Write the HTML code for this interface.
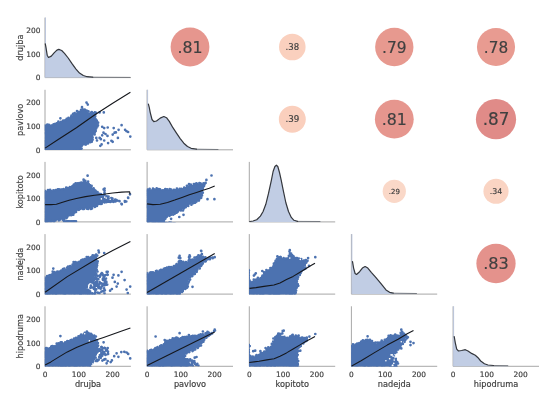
<!DOCTYPE html>
<html><head><meta charset="utf-8"><title>pairgrid</title>
<style>html,body{margin:0;padding:0;background:#fff}svg{display:block}text{font-family:"DejaVu Sans","Liberation Sans",sans-serif;fill:#404040;stroke:#404040;stroke-width:0.18px}</style></head><body>
<svg width="550" height="398" viewBox="0 0 550 398">
<rect width="550" height="398" fill="#fff"/>
<path d="M45.0 17.6V77.6H130.9" fill="none" stroke="#8a8a8a" stroke-width="0.75"/>
<polygon points="44.9,77.6 44.9,76.9 44.9,57.1 45.3,43.9 46.0,47.7 47.2,55.2 48.5,57.5 51.3,56.1 54.1,52.9 56.9,50.1 58.8,49.4 61.7,50.5 64.5,53.3 68.2,58.0 72.0,63.7 75.8,68.8 79.5,73.1 83.3,75.5 87.1,76.7 92.7,77.2 130.4,77.4 130.4,77.6" fill="#c1cde4"/>
<path d="M45.5 17.6V77.6" stroke="#b9c4dc" stroke-width="0.9" fill="none"/>
<polyline points="92.7,77.2 130.4,77.4" fill="none" stroke="#6c6f75" stroke-width="0.9"/>
<polyline points="45.3,43.9 46.0,47.7 47.2,55.2 48.5,57.5 51.3,56.1 54.1,52.9 56.9,50.1 58.8,49.4 61.7,50.5 64.5,53.3 68.2,58.0 72.0,63.7 75.8,68.8 79.5,73.1 83.3,75.5 87.1,76.7 92.7,77.2" fill="none" stroke="#33363c" stroke-width="1.2" stroke-linejoin="round" stroke-linecap="round"/>
<text x="40.4" y="80.4" font-size="7.45" text-anchor="end">0</text>
<text x="40.4" y="56.8" font-size="7.45" text-anchor="end">100</text>
<text x="40.4" y="33.2" font-size="7.45" text-anchor="end">200</text>
<text transform="translate(22.8 47.6) rotate(-90)" font-size="8.2" text-anchor="middle">drujba</text>
<circle cx="190.0" cy="47.0" r="19.40" fill="#e6968e"/>
<text x="190.0" y="52.8" font-size="15.80" text-anchor="middle" fill="#35282a">.81</text>
<circle cx="292.3" cy="47.0" r="13.29" fill="#fad0be"/>
<text x="292.3" y="50.1" font-size="8.53" text-anchor="middle" fill="#35282a">.38</text>
<circle cx="394.3" cy="47.0" r="19.16" fill="#e7998f"/>
<text x="394.3" y="52.6" font-size="15.46" text-anchor="middle" fill="#35282a">.79</text>
<circle cx="496.0" cy="47.0" r="19.04" fill="#e89b91"/>
<text x="496.0" y="52.6" font-size="15.29" text-anchor="middle" fill="#35282a">.78</text>
<path d="M45.0 89.8V149.8H130.9" fill="none" stroke="#8a8a8a" stroke-width="0.75"/>
<clipPath id="c10"><rect x="44.8" y="88.8" width="87.2" height="61.3"/></clipPath>
<g clip-path="url(#c10)">
<polygon points="43.6,151.2 80.2,151.2 82.4,145.8 82.5,145.7 82.6,145.5 82.7,145.4 82.8,145.3 82.9,145.2 83.0,145.1 83.1,145.0 83.3,144.9 83.4,144.9 91.0,142.4 92.6,141.1 92.1,138.2 92.1,138.0 92.1,137.9 92.1,137.7 92.2,137.5 92.2,137.4 92.3,137.2 92.4,137.1 94.3,133.8 96.2,130.7 97.4,127.1 98.0,123.7 96.8,120.2 95.5,116.9 95.5,116.8 95.4,116.6 95.4,116.5 95.4,116.3 95.4,116.2 95.4,116.0 95.5,115.9 95.5,115.7 96.4,113.5 95.0,112.1 92.6,112.1 90.2,112.7 90.0,112.7 89.9,112.7 89.7,112.7 89.6,112.7 89.4,112.7 89.3,112.6 89.1,112.6 89.0,112.5 88.8,112.4 86.3,110.5 83.8,109.0 83.4,109.2 79.8,111.0 79.6,111.1 77.1,111.9 73.7,114.5 70.1,117.2 69.9,117.3 69.8,117.3 64.4,120.1 64.1,120.2 58.8,121.9 55.3,123.7 55.1,123.8 54.9,123.8 51.3,124.7 51.1,124.8 51.0,124.8 50.8,124.8 50.7,124.8 50.5,124.7 47.3,123.9 43.6,125.2 43.6,151.2" fill="#4c72b0"/>
<path d="M43.8 151.1h0M45.9 150.7h0M48.3 151.7h0M50.2 150.7h0M52.1 150.9h0M53.8 151.9h0M57.0 150.5h0M58.9 151.3h0M60.3 150.9h0M62.8 151.1h0M65.0 151.4h0M66.2 151.6h0M69.6 151.9h0M71.2 150.5h0M72.4 150.6h0M75.9 150.9h0M77.1 151.8h0M79.1 151.3h0M80.6 149.3h0M81.6 148.6h0M81.8 145.7h0M83.7 144.1h0M85.8 144.6h0M88.0 143.5h0M90.3 142.2h0M91.8 141.7h0M92.6 139.7h0M92.6 137.6h0M92.3 136.7h0M94.6 134.4h0M94.9 132.3h0M95.7 131.0h0M96.3 128.3h0M97.4 126.4h0M98.0 125.3h0M98.1 122.7h0M96.8 120.7h0M95.5 119.1h0M95.2 116.6h0M95.2 114.8h0M96.1 112.9h0M94.8 112.3h0M91.8 112.2h0M90.8 112.7h0M88.4 111.3h0M86.6 110.6h0M84.7 109.5h0M83.1 109.5h0M81.1 109.8h0M79.1 111.9h0M77.0 111.2h0M74.7 113.2h0M73.1 113.8h0M71.5 115.6h0M71.2 116.9h0M68.5 117.8h0M66.7 118.8h0M65.2 120.4h0M63.2 120.5h0M61.1 121.9h0M58.4 121.5h0M57.2 123.1h0M55.3 123.9h0M53.6 124.3h0M51.5 125.5h0M48.9 124.9h0M47.3 124.7h0M44.3 125.4h0M44.1 126.6h0M44.4 127.7h0M43.9 129.6h0M43.8 132.9h0M43.2 134.1h0M43.0 136.0h0M43.2 138.0h0M44.4 141.2h0M43.6 143.1h0M43.9 144.9h0M43.5 147.2h0M43.7 148.7h0M60.4 118.3h0M86.5 102.6h0M87.8 104.6h0M82.0 107.2h0M99.6 112.4h0M103.8 112.4h0M102.2 126.8h0M104.2 128.1h0M107.7 127.5h0M103.5 132.7h0M105.5 134.0h0M107.5 135.9h0M102.2 135.3h0M99.6 137.9h0M100.9 139.2h0M96.3 137.9h0M97.0 140.5h0M104.2 140.5h0M101.6 144.4h0M100.3 145.8h0M108.1 143.1h0M111.4 140.8h0M112.7 141.8h0M117.9 137.9h0M112.7 134.6h0M114.6 132.7h0M115.9 132.4h0M113.7 128.1h0M118.6 129.8h0M121.6 125.2h0M125.1 129.8h0M126.4 131.1h0M128.1 132.0h0M130.3 136.6h0" fill="none" stroke="#4c72b0" stroke-width="2.7" stroke-linecap="round"/>
</g>
<polyline points="45.1,148.1 58.2,139.5 76.4,127.7 94.5,115.0 112.7,103.2 130.4,92.3" fill="none" stroke="#15171c" stroke-width="1.1" stroke-linejoin="round"/>
<text x="40.4" y="152.5" font-size="7.45" text-anchor="end">0</text>
<text x="40.4" y="128.9" font-size="7.45" text-anchor="end">100</text>
<text x="40.4" y="105.3" font-size="7.45" text-anchor="end">200</text>
<text transform="translate(22.8 119.8) rotate(-90)" font-size="8.2" text-anchor="middle">pavlovo</text>
<path d="M147.1 89.8V149.8H233.0" fill="none" stroke="#8a8a8a" stroke-width="0.75"/>
<polygon points="147.1,149.8 147.1,149.5 147.5,130.5 148.4,104.1 149.3,107.7 150.2,112.3 152.0,119.5 153.8,121.7 156.5,121.0 160.2,118.1 163.8,116.5 166.5,117.7 169.3,121.4 172.9,127.7 176.5,133.2 180.2,138.6 183.8,143.2 187.5,146.5 191.1,148.3 196.5,149.2 218.4,149.5 218.4,149.8" fill="#c1cde4"/>
<path d="M147.6 89.8V149.8" stroke="#b9c4dc" stroke-width="0.9" fill="none"/>
<polyline points="196.5,149.2 218.4,149.5" fill="none" stroke="#6c6f75" stroke-width="0.9"/>
<polyline points="148.4,104.1 149.3,107.7 150.2,112.3 152.0,119.5 153.8,121.7 156.5,121.0 160.2,118.1 163.8,116.5 166.5,117.7 169.3,121.4 172.9,127.7 176.5,133.2 180.2,138.6 183.8,143.2 187.5,146.5 191.1,148.3 196.5,149.2" fill="none" stroke="#33363c" stroke-width="1.2" stroke-linejoin="round" stroke-linecap="round"/>
<circle cx="292.3" cy="119.2" r="13.46" fill="#facfbd"/>
<text x="292.3" y="122.4" font-size="8.70" text-anchor="middle" fill="#35282a">.39</text>
<circle cx="394.3" cy="119.2" r="19.40" fill="#e6968e"/>
<text x="394.3" y="124.9" font-size="15.80" text-anchor="middle" fill="#35282a">.81</text>
<circle cx="496.0" cy="119.2" r="20.11" fill="#e08b88"/>
<text x="496.0" y="125.3" font-size="16.82" text-anchor="middle" fill="#35282a">.87</text>
<path d="M45.0 161.9V221.9H130.9" fill="none" stroke="#8a8a8a" stroke-width="0.75"/>
<clipPath id="c20"><rect x="44.8" y="160.9" width="87.2" height="61.3"/></clipPath>
<g clip-path="url(#c20)">
<polygon points="43.6,223.0 64.8,219.1 68.1,216.6 68.2,216.5 68.4,216.5 72.0,214.7 72.2,214.6 72.3,214.5 72.5,214.5 72.6,214.5 72.8,214.5 73.4,214.5 78.0,210.4 78.1,210.3 78.2,210.3 78.4,210.2 78.5,210.1 78.7,210.1 84.7,208.6 84.9,208.5 85.0,208.5 85.2,208.5 91.1,209.0 93.1,207.4 93.3,207.3 93.4,207.2 101.4,203.2 101.6,203.1 101.7,203.1 101.9,203.0 102.0,203.0 102.2,203.0 105.8,203.0 108.5,201.7 108.6,201.6 108.8,201.5 108.9,201.5 111.9,201.0 112.1,201.0 112.3,201.0 112.4,201.0 112.6,201.0 112.7,201.1 115.2,201.9 117.4,201.1 115.8,200.6 115.7,200.6 115.5,200.5 111.5,198.5 109.5,197.5 106.5,196.0 103.7,194.6 100.0,194.1 99.8,194.1 99.7,194.1 99.5,194.0 99.4,193.9 99.2,193.9 99.1,193.8 96.1,191.3 96.0,191.2 93.0,188.1 92.9,188.1 87.3,181.7 84.6,180.9 82.4,181.8 82.3,181.8 82.2,181.8 77.0,183.0 74.5,184.7 74.4,184.8 74.2,184.8 69.7,186.7 69.6,186.7 64.1,188.5 64.0,188.6 63.8,188.6 58.5,189.1 53.2,190.9 53.1,190.9 52.9,191.0 52.8,191.0 52.6,191.0 52.4,190.9 52.3,190.9 49.0,189.9 43.6,191.0 43.6,223.0" fill="#4c72b0"/>
<path d="M44.3 223.3h0M46.1 223.3h0M47.4 222.5h0M50.5 222.4h0M52.1 221.0h0M53.9 221.9h0M55.5 220.5h0M58.9 220.3h0M59.8 219.7h0M63.0 219.3h0M64.3 219.4h0M66.6 218.1h0M67.2 216.9h0M69.0 215.2h0M71.1 215.2h0M73.3 214.7h0M74.6 212.4h0M76.0 211.9h0M78.9 209.8h0M80.0 208.9h0M82.6 208.8h0M83.9 208.9h0M86.7 208.6h0M88.1 209.0h0M90.9 208.9h0M92.0 208.5h0M94.8 207.0h0M96.9 205.9h0M97.8 204.3h0M100.1 204.0h0M101.7 203.8h0M104.5 202.4h0M106.6 202.1h0M108.2 201.7h0M110.3 202.0h0M112.1 201.4h0M113.4 201.8h0M115.5 201.5h0M116.5 200.2h0M115.2 199.5h0M112.5 198.6h0M111.3 198.0h0M108.5 196.6h0M106.8 196.4h0M104.6 194.7h0M103.7 194.6h0M100.8 194.0h0M98.7 193.6h0M97.5 192.1h0M95.6 190.8h0M94.3 189.8h0M93.6 188.4h0M91.6 185.9h0M89.8 185.2h0M88.7 184.0h0M88.1 181.6h0M85.3 180.8h0M83.8 180.7h0M81.2 182.5h0M79.3 183.2h0M77.3 183.4h0M75.6 183.4h0M73.9 184.6h0M72.5 186.1h0M69.9 187.2h0M67.9 188.0h0M66.2 187.5h0M63.5 189.1h0M61.2 189.5h0M59.0 189.4h0M57.8 189.3h0M55.7 190.2h0M53.4 190.4h0M50.9 190.9h0M50.1 189.9h0M48.0 190.1h0M45.0 191.1h0M44.3 190.7h0M44.2 193.2h0M44.1 195.3h0M44.4 197.4h0M43.2 199.1h0M43.1 201.3h0M44.1 203.3h0M43.1 205.7h0M43.1 208.7h0M42.9 210.6h0M43.4 211.9h0M43.2 214.6h0M43.3 216.5h0M43.5 218.9h0M44.0 220.6h0M119.5 201.2h0M87.6 175.7h0M103.6 189.4h0M104.5 192.5h0M113.6 201.5h0M117.3 200.6h0M121.8 204.3h0M125.5 201.5h0M128.2 197.9h0M130.0 194.3h0M62.7 219.7h0M83.6 179.7h0M87.6 175.5h0M104.6 188.6h0M104.6 190.7h0M121.4 203.8h0M124.9 201.8h0M126.3 201.5h0M128.1 197.6h0M104.2 189.0h0M121.8 204.1h0M124.8 201.1h0M64.0 221.3h0M65.2 221.3h0M66.4 221.3h0M67.6 221.3h0M68.8 221.3h0M70.0 221.3h0M71.2 221.3h0M72.4 221.3h0M73.6 221.3h0M74.8 221.3h0M76.0 221.3h0" fill="none" stroke="#4c72b0" stroke-width="2.7" stroke-linecap="round"/>
<path d="M110.2 199.3h0M106.2 198.1h0M101.4 198.9h0M104.7 197.1h0" fill="none" stroke="#fff" stroke-width="1.6" stroke-linecap="round"/>
</g>
<polyline points="45.1,204.6 50.9,204.6 56.4,204.3 61.8,202.5 69.1,200.3 76.4,198.5 85.5,196.6 94.5,195.2 103.6,194.3 112.7,193.0 121.8,192.1 129.7,191.8 130.0,194.2" fill="none" stroke="#15171c" stroke-width="1.1" stroke-linejoin="round"/>
<text x="40.4" y="224.7" font-size="7.45" text-anchor="end">0</text>
<text x="40.4" y="201.1" font-size="7.45" text-anchor="end">100</text>
<text x="40.4" y="177.5" font-size="7.45" text-anchor="end">200</text>
<text transform="translate(22.8 191.9) rotate(-90)" font-size="8.2" text-anchor="middle">kopitoto</text>
<path d="M147.1 161.9V221.9H233.0" fill="none" stroke="#8a8a8a" stroke-width="0.75"/>
<clipPath id="c21"><rect x="146.8" y="160.9" width="87.2" height="61.3"/></clipPath>
<g clip-path="url(#c21)">
<polygon points="145.7,223.3 171.1,223.3 165.3,222.2 165.2,222.2 165.0,222.1 164.9,222.0 164.7,222.0 164.6,221.9 164.5,221.8 164.4,221.6 164.3,221.5 164.2,221.4 164.1,221.2 164.1,221.1 164.1,220.9 164.0,220.8 164.0,220.6 164.0,220.4 164.1,220.3 164.1,220.1 164.2,220.0 164.3,219.8 164.3,219.7 164.4,219.6 164.6,219.5 164.7,219.4 168.3,216.6 168.4,216.5 173.0,213.8 173.1,213.7 173.2,213.7 177.8,211.9 182.1,210.1 185.6,207.5 189.2,204.8 189.3,204.7 189.5,204.7 189.6,204.6 194.1,202.8 199.1,200.3 201.5,197.1 203.0,193.2 202.3,190.1 202.2,190.0 202.2,189.8 202.2,189.6 202.2,189.5 202.3,189.3 203.2,185.7 203.2,185.6 203.3,185.4 203.4,185.3 203.4,185.1 205.6,182.3 204.7,182.9 204.5,183.0 204.4,183.0 204.2,183.1 200.6,184.0 200.4,184.0 200.3,184.1 200.1,184.1 199.9,184.0 199.8,184.0 199.6,184.0 199.5,183.9 199.4,183.8 197.4,182.7 193.7,184.8 193.5,184.8 193.4,184.9 193.3,184.9 193.1,185.0 192.9,185.0 192.8,185.0 189.0,184.7 186.8,186.9 186.7,187.0 186.5,187.1 186.4,187.1 186.2,187.2 186.1,187.3 186.0,187.3 180.5,188.4 175.1,189.6 175.0,189.7 174.8,189.7 174.7,189.7 169.3,189.5 163.9,189.9 163.8,189.9 163.6,189.9 163.5,189.8 158.3,188.6 153.1,189.1 153.0,189.1 145.7,189.7 145.7,223.3" fill="#4c72b0"/>
<path d="M145.1 223.6h0M148.0 223.3h0M149.5 223.8h0M152.5 223.4h0M154.1 223.0h0M155.5 223.2h0M158.5 222.7h0M161.0 222.9h0M162.2 222.7h0M165.5 223.7h0M167.4 223.5h0M168.3 223.1h0M171.1 222.8h0M169.7 222.7h0M166.4 223.0h0M164.3 222.7h0M164.0 220.3h0M165.3 218.7h0M166.7 216.8h0M169.5 215.8h0M171.2 214.7h0M173.3 214.6h0M174.9 213.6h0M176.6 212.7h0M177.9 211.6h0M180.9 210.4h0M183.0 210.5h0M183.9 208.5h0M185.7 207.2h0M188.2 206.0h0M188.4 204.3h0M191.4 204.7h0M193.1 203.2h0M195.1 202.7h0M196.5 201.6h0M198.9 200.6h0M199.7 198.4h0M201.2 197.8h0M202.0 195.4h0M202.8 192.7h0M201.9 191.7h0M202.7 188.9h0M203.1 187.3h0M204.1 185.8h0M204.6 184.1h0M205.6 182.9h0M203.5 183.4h0M200.7 183.6h0M199.4 183.0h0M196.4 183.3h0M195.6 183.9h0M193.8 184.2h0M190.8 184.5h0M189.0 184.2h0M186.9 185.8h0M186.5 188.0h0M184.2 187.7h0M181.3 188.8h0M179.7 188.9h0M176.9 188.6h0M176.0 190.0h0M174.0 189.8h0M171.2 189.7h0M169.7 189.2h0M167.1 189.3h0M165.3 189.1h0M163.1 190.4h0M160.0 189.3h0M158.9 189.2h0M156.7 188.4h0M154.3 189.7h0M153.0 188.6h0M149.6 188.8h0M147.4 189.5h0M145.5 190.3h0M145.9 190.9h0M145.7 193.4h0M145.6 195.3h0M145.1 197.4h0M145.5 200.3h0M145.7 201.4h0M146.0 204.8h0M146.1 206.8h0M144.9 208.4h0M145.0 211.0h0M145.2 213.1h0M145.3 215.2h0M145.4 216.3h0M145.5 218.8h0M146.3 220.9h0M173.4 223.4h0M175.1 223.7h0M173.1 223.5h0M174.8 223.6h0M173.4 223.4h0M173.8 223.9h0M173.8 223.5h0M174.6 223.6h0M173.8 223.6h0M174.7 223.7h0M174.9 223.7h0M174.2 223.6h0M173.5 223.7h0M174.6 223.5h0M173.1 223.8h0M173.2 223.9h0M173.9 223.3h0M175.0 223.8h0M206.4 179.9h0M211.5 175.5h0M207.5 199.2h0M214.4 199.2h0M183.5 214.8h0M179.3 217.0h0M171.1 218.8h0" fill="none" stroke="#4c72b0" stroke-width="2.7" stroke-linecap="round"/>
</g>
<polyline points="147.1,203.9 152.9,204.6 160.2,204.3 167.5,202.5 174.7,200.1 182.0,197.4 189.3,194.8 196.5,192.5 203.8,190.1 209.3,188.3 214.7,186.1" fill="none" stroke="#15171c" stroke-width="1.1" stroke-linejoin="round"/>
<path d="M249.3 161.9V221.9H335.2" fill="none" stroke="#8a8a8a" stroke-width="0.75"/>
<polygon points="249.8,221.9 249.8,221.5 253.1,221.0 256.7,219.7 260.4,216.1 263.1,211.5 265.8,204.3 268.5,193.4 271.3,180.6 273.1,171.5 274.9,166.5 276.4,165.2 277.8,166.5 279.5,172.5 281.3,180.6 283.1,189.7 285.8,202.5 288.5,211.5 291.3,217.4 294.0,220.3 297.6,221.4 320.4,221.5 320.4,221.9" fill="#c1cde4"/>
<polyline points="297.6,221.4 320.4,221.5" fill="none" stroke="#6c6f75" stroke-width="0.9"/>
<polyline points="249.8,221.5 253.1,221.0 256.7,219.7 260.4,216.1 263.1,211.5 265.8,204.3 268.5,193.4 271.3,180.6 273.1,171.5 274.9,166.5 276.4,165.2 277.8,166.5 279.5,172.5 281.3,180.6 283.1,189.7 285.8,202.5 288.5,211.5 291.3,217.4 294.0,220.3 297.6,221.4" fill="none" stroke="#33363c" stroke-width="1.2" stroke-linejoin="round" stroke-linecap="round"/>
<circle cx="394.3" cy="191.3" r="11.61" fill="#fad8c8"/>
<text x="394.3" y="193.9" font-size="7.01" text-anchor="middle" fill="#35282a">.29</text>
<circle cx="496.0" cy="191.3" r="12.57" fill="#fad4c3"/>
<text x="496.0" y="194.2" font-size="7.86" text-anchor="middle" fill="#35282a">.34</text>
<path d="M45.0 234.1V294.1H130.9" fill="none" stroke="#8a8a8a" stroke-width="0.75"/>
<clipPath id="c30"><rect x="44.8" y="233.1" width="87.2" height="61.3"/></clipPath>
<g clip-path="url(#c30)">
<polygon points="43.6,295.5 95.7,295.5 95.2,293.7 91.2,292.2 91.1,292.2 90.9,292.1 90.8,292.0 87.2,289.0 87.1,288.9 87.0,288.8 86.9,288.7 86.8,288.5 86.8,288.4 86.7,288.2 86.7,288.1 86.7,287.9 86.7,287.7 86.7,287.6 86.7,287.4 86.7,287.3 87.9,283.7 88.0,283.6 88.0,283.5 88.1,283.3 88.2,283.2 88.3,283.1 88.4,283.0 91.9,280.1 95.1,276.3 96.7,272.1 97.3,266.4 97.3,266.2 97.4,266.1 97.4,265.9 97.5,265.8 97.5,265.7 98.0,265.0 97.5,262.0 96.6,258.5 96.6,258.3 96.6,258.2 96.6,258.0 96.6,257.9 96.6,257.7 97.4,254.5 97.2,253.8 96.2,254.1 93.6,255.8 93.5,255.9 93.3,255.9 93.2,256.0 93.0,256.0 88.6,256.9 84.2,258.7 84.2,258.7 80.7,260.0 77.6,262.5 77.5,262.5 77.3,262.6 77.2,262.7 77.1,262.7 76.9,262.8 76.8,262.8 76.6,262.8 74.4,262.8 73.5,264.4 73.4,264.5 73.3,264.6 73.2,264.7 73.1,264.9 73.0,265.0 72.8,265.0 68.8,267.0 64.9,269.0 64.8,269.1 59.6,271.1 59.4,271.1 59.3,271.2 55.4,271.9 55.2,271.9 55.1,271.9 54.9,271.9 54.8,271.9 54.6,271.8 54.5,271.8 54.3,271.7 53.6,271.3 51.9,274.4 51.8,274.5 51.7,274.6 51.6,274.7 51.5,274.9 51.4,274.9 51.2,275.0 51.1,275.1 47.8,276.4 47.7,276.4 43.6,277.8 43.6,295.5" fill="#4c72b0"/>
<path d="M43.7 295.2h0M45.1 295.8h0M47.4 295.2h0M49.8 295.7h0M52.8 295.5h0M54.9 296.3h0M55.9 294.9h0M57.9 296.0h0M60.7 296.2h0M63.3 295.8h0M64.8 294.9h0M66.1 296.0h0M69.2 295.9h0M71.2 295.8h0M73.4 296.1h0M74.7 295.5h0M77.1 296.0h0M80.1 295.2h0M81.0 295.1h0M83.5 295.9h0M85.7 295.9h0M87.7 295.6h0M89.6 295.7h0M92.2 296.1h0M95.0 295.6h0M94.8 295.5h0M94.9 293.3h0M92.3 293.3h0M90.1 291.3h0M89.1 290.6h0M87.5 289.5h0M86.8 286.9h0M87.1 284.6h0M88.1 283.0h0M90.3 281.9h0M91.6 280.2h0M93.2 278.7h0M94.8 277.5h0M95.7 275.3h0M96.2 273.8h0M97.5 271.5h0M96.7 269.7h0M96.6 267.1h0M97.1 265.4h0M97.3 263.1h0M97.7 261.4h0M96.1 259.1h0M96.0 257.6h0M97.3 255.6h0M96.1 254.5h0M94.1 255.6h0M92.7 255.4h0M91.4 257.0h0M88.2 257.0h0M86.7 257.1h0M84.7 259.2h0M82.6 259.6h0M81.2 260.4h0M79.3 261.8h0M77.3 262.5h0M75.4 262.2h0M73.8 264.1h0M72.6 264.7h0M70.2 266.1h0M68.1 266.6h0M67.2 267.5h0M64.4 268.5h0M63.0 269.1h0M61.3 270.6h0M59.4 271.6h0M57.3 271.6h0M54.6 272.0h0M52.7 271.5h0M52.5 273.9h0M50.3 275.1h0M49.0 275.6h0M47.1 276.2h0M44.4 277.3h0M43.3 279.0h0M43.5 280.4h0M44.1 283.4h0M44.1 284.4h0M43.3 286.5h0M44.0 289.1h0M43.0 292.0h0M43.0 292.7h0M53.3 268.6h0M98.5 250.5h0M73.6 262.1h0M101.8 273.0h0M107.7 271.8h0M107.7 274.8h0M113.6 274.8h0M112.5 277.7h0M118.4 275.4h0M121.6 271.8h0M114.8 281.9h0M117.8 283.6h0M124.6 280.1h0M116.6 286.6h0M111.9 289.0h0M110.1 290.7h0M130.2 286.6h0M126.6 289.6h0M127.8 293.1h0M98.9 252.4h0M104.2 253.0h0M98.6 287.9h0M90.4 287.8h0M96.6 285.1h0M94.7 285.8h0M94.0 284.5h0M99.9 275.4h0M97.5 275.8h0M96.2 289.4h0M104.9 290.3h0M99.3 286.9h0M100.4 287.7h0M97.4 279.4h0M104.5 285.3h0M98.3 279.2h0M96.4 278.0h0M104.5 293.3h0M100.5 275.6h0M103.5 291.0h0M98.6 286.5h0M104.5 290.4h0M99.6 282.2h0M104.9 281.4h0M106.7 272.0h0M105.6 283.4h0M92.2 282.6h0M97.1 283.9h0M103.0 279.9h0M105.0 279.4h0M96.9 281.7h0M99.4 293.2h0M105.2 285.0h0M97.7 285.1h0M100.7 288.7h0M106.4 282.1h0M103.5 277.2h0M105.5 275.0h0M99.5 284.0h0M102.9 284.8h0M107.2 272.5h0M102.8 279.2h0M95.3 292.3h0M90.9 285.7h0M99.9 276.8h0M95.3 279.1h0M105.5 283.6h0M102.5 273.9h0M104.0 278.5h0M101.1 274.1h0M97.5 279.6h0M106.4 284.6h0M93.9 283.2h0M106.0 278.6h0M96.5 278.9h0M102.9 291.1h0M97.7 292.7h0M90.7 287.1h0M103.3 275.4h0M107.2 284.6h0M95.2 285.9h0M98.2 286.9h0M94.4 286.0h0M106.2 281.5h0M93.2 287.7h0M104.1 288.4h0M92.3 287.5h0M101.4 291.6h0M95.6 283.9h0M105.0 275.6h0M103.9 283.7h0M94.6 288.1h0M96.0 282.0h0M93.7 280.7h0M91.9 287.3h0M101.4 283.3h0M95.4 290.6h0M106.7 271.8h0M94.0 289.0h0M103.7 277.2h0M96.5 285.6h0M106.4 282.3h0M99.5 286.5h0M94.6 288.5h0M102.3 285.9h0M101.3 287.7h0M100.0 287.7h0" fill="none" stroke="#4c72b0" stroke-width="2.7" stroke-linecap="round"/>
</g>
<polyline points="45.1,292.3 67.3,276.6 94.5,260.3 112.7,250.5 130.4,241.4" fill="none" stroke="#15171c" stroke-width="1.1" stroke-linejoin="round"/>
<text x="40.4" y="296.9" font-size="7.45" text-anchor="end">0</text>
<text x="40.4" y="273.3" font-size="7.45" text-anchor="end">100</text>
<text x="40.4" y="249.7" font-size="7.45" text-anchor="end">200</text>
<text transform="translate(22.8 264.1) rotate(-90)" font-size="8.2" text-anchor="middle">nadejda</text>
<path d="M147.1 234.1V294.1H233.0" fill="none" stroke="#8a8a8a" stroke-width="0.75"/>
<clipPath id="c31"><rect x="146.8" y="233.1" width="87.2" height="61.3"/></clipPath>
<g clip-path="url(#c31)">
<polygon points="145.7,295.5 179.3,295.5 181.5,291.8 181.6,291.7 181.8,291.5 181.9,291.4 182.0,291.3 184.7,289.5 187.4,287.7 188.5,286.8 188.3,286.6 188.2,286.5 188.0,286.4 187.9,286.3 187.9,286.1 187.8,286.0 187.7,285.8 187.7,285.7 187.7,285.5 187.7,285.4 187.7,285.2 188.0,281.6 188.1,281.4 188.1,281.3 188.2,281.1 188.2,281.0 188.3,280.9 190.7,277.2 190.7,277.1 190.8,277.0 190.9,276.9 191.0,276.8 194.5,274.2 197.1,270.8 199.8,267.1 202.5,263.5 202.6,263.4 202.7,263.3 202.9,263.2 206.5,260.4 206.6,260.4 206.7,260.3 206.9,260.2 211.4,258.4 211.5,258.4 213.0,257.9 212.8,257.2 209.6,257.8 209.4,257.9 209.3,257.9 204.7,257.9 204.6,257.9 204.4,257.8 204.3,257.8 204.1,257.8 204.0,257.7 203.8,257.6 203.7,257.5 203.6,257.4 203.5,257.3 203.4,257.2 201.6,254.4 201.1,253.7 200.6,254.4 200.5,254.6 200.4,254.7 200.2,254.8 196.6,257.6 196.4,257.7 196.3,257.7 192.1,259.6 191.9,259.6 191.8,259.7 191.6,259.7 191.5,259.7 191.3,259.7 191.2,259.7 191.0,259.6 190.9,259.6 190.7,259.5 190.6,259.4 190.4,259.3 190.3,259.2 190.2,259.1 190.1,259.0 190.1,258.9 189.9,259.5 189.8,259.7 189.7,259.8 189.7,259.9 189.6,260.0 189.5,260.2 189.4,260.3 189.2,260.3 185.6,262.7 185.5,262.8 185.3,262.8 185.2,262.9 185.0,262.9 184.9,263.0 184.7,263.0 184.6,263.0 184.4,262.9 184.3,262.9 184.1,262.8 184.0,262.8 183.9,262.7 180.2,260.3 180.1,260.2 180.0,260.1 179.9,260.0 179.8,259.9 179.8,259.9 179.0,262.2 178.9,262.4 178.8,262.5 178.8,262.7 178.7,262.8 178.5,262.9 178.4,263.0 178.3,263.1 173.7,265.8 173.6,265.9 173.4,266.0 168.0,267.8 167.8,267.8 162.4,269.1 157.1,270.9 157.0,270.9 151.5,272.4 151.5,272.4 145.7,273.9 145.7,295.5" fill="#4c72b0"/>
<path d="M144.9 294.9h0M147.6 295.8h0M149.3 294.9h0M151.6 295.9h0M153.6 295.9h0M156.5 295.0h0M158.4 295.5h0M160.3 296.3h0M161.9 294.8h0M165.3 295.4h0M166.3 295.3h0M168.7 296.2h0M170.6 295.1h0M173.2 295.6h0M175.9 296.0h0M177.1 295.1h0M179.9 296.1h0M179.8 293.9h0M182.1 292.0h0M182.8 290.9h0M185.3 288.9h0M187.0 287.7h0M187.8 286.6h0M187.4 285.0h0M188.1 283.5h0M188.9 281.7h0M190.1 279.6h0M190.2 276.9h0M192.3 276.1h0M194.1 274.1h0M194.8 273.9h0M196.7 271.8h0M197.2 269.7h0M199.7 268.4h0M201.0 266.0h0M201.5 265.2h0M202.8 263.6h0M204.7 261.3h0M205.7 261.3h0M207.6 259.3h0M209.9 259.2h0M212.7 258.2h0M212.4 257.7h0M210.0 257.5h0M208.4 258.1h0M205.4 257.3h0M203.5 258.0h0M203.0 256.8h0M201.9 254.0h0M200.7 255.5h0M198.4 255.3h0M196.7 257.0h0M194.5 257.6h0M192.5 259.7h0M190.4 259.8h0M189.4 259.2h0M188.7 260.7h0M185.9 262.1h0M184.8 263.0h0M183.2 261.8h0M180.9 261.1h0M179.5 260.8h0M178.8 261.9h0M176.6 264.2h0M175.8 265.5h0M173.9 266.0h0M171.1 267.1h0M169.0 267.1h0M167.0 267.7h0M165.2 268.3h0M163.8 268.9h0M161.0 269.8h0M159.8 270.6h0M156.7 270.9h0M156.0 271.0h0M152.9 272.4h0M151.1 272.3h0M149.7 272.8h0M146.7 273.1h0M145.4 274.7h0M145.5 276.9h0M145.0 278.3h0M145.8 280.7h0M145.6 283.5h0M145.3 284.5h0M145.0 287.1h0M145.3 289.2h0M144.9 290.6h0M145.5 293.8h0M201.3 251.1h0M190.0 256.6h0M189.0 257.2h0M180.3 258.0h0M178.8 257.7h0M179.6 255.9h0M189.6 255.4h0M201.1 250.8h0M214.7 257.2h0M192.5 286.8h0" fill="none" stroke="#4c72b0" stroke-width="2.7" stroke-linecap="round"/>
</g>
<polyline points="147.1,292.6 214.7,253.5" fill="none" stroke="#15171c" stroke-width="1.1" stroke-linejoin="round"/>
<path d="M249.3 234.1V294.1H335.2" fill="none" stroke="#8a8a8a" stroke-width="0.75"/>
<clipPath id="c32"><rect x="249.0" y="233.1" width="87.2" height="61.3"/></clipPath>
<g clip-path="url(#c32)">
<polygon points="247.9,295.5 295.0,295.5 296.1,290.4 296.1,290.3 296.2,290.1 296.3,289.9 298.0,287.0 298.0,284.5 296.8,280.8 296.7,280.6 296.7,280.5 296.7,280.3 296.7,280.2 296.7,280.0 296.8,279.9 296.8,279.7 298.1,276.4 298.2,276.3 298.2,276.2 298.3,276.1 300.3,273.5 300.3,273.4 302.9,270.1 303.0,270.0 303.1,269.9 303.2,269.9 305.5,268.1 305.8,267.5 305.6,267.4 305.5,267.4 305.3,267.3 305.2,267.2 305.1,267.1 305.0,267.0 304.9,266.9 304.8,266.8 304.7,266.6 304.6,266.5 304.6,266.3 304.6,266.2 304.5,266.0 304.5,265.8 304.6,265.7 304.6,265.5 304.6,265.4 304.7,265.2 304.8,265.1 304.9,265.0 306.7,262.5 307.6,260.7 307.2,259.9 305.2,260.3 305.0,260.3 304.8,260.3 304.7,260.3 304.5,260.3 298.0,259.0 297.8,259.0 297.7,258.9 297.6,258.8 297.4,258.8 297.3,258.7 294.2,256.2 291.7,254.9 291.6,254.8 291.4,254.8 291.3,254.6 291.2,254.5 290.1,253.2 289.2,254.9 289.1,255.1 289.0,255.2 286.4,258.4 286.3,258.5 286.2,258.6 286.1,258.7 286.0,258.8 285.8,258.9 285.7,258.9 285.5,259.0 285.4,259.0 285.2,259.0 285.0,259.0 284.9,259.0 284.7,258.9 284.6,258.9 281.3,257.5 281.1,257.4 281.0,257.3 279.0,255.9 277.9,256.2 276.9,258.6 275.6,262.5 275.6,262.6 275.5,262.8 275.4,262.9 275.3,263.0 272.1,266.8 272.0,266.9 271.9,267.0 268.8,269.6 268.7,269.7 268.5,269.8 268.4,269.9 265.0,271.2 263.6,272.6 262.6,276.3 262.6,276.5 262.5,276.6 262.5,276.8 262.4,276.9 262.3,277.0 262.1,277.1 262.0,277.2 261.9,277.3 261.7,277.4 261.6,277.4 257.9,278.6 255.0,279.8 251.7,281.7 251.5,281.8 251.4,281.8 251.2,281.9 251.1,281.9 250.9,281.9 250.8,281.9 250.6,281.9 250.5,281.8 250.3,281.8 250.2,281.7 250.0,281.6 249.9,281.6 249.8,281.5 249.7,281.3 249.6,281.2 249.5,281.1 249.4,280.9 249.4,280.8 249.3,280.6 249.3,280.5 249.3,280.3 249.1,269.6 247.9,269.6 247.9,295.5" fill="#4c72b0"/>
<path d="M247.3 295.1h0M249.8 296.1h0M252.1 295.9h0M253.7 295.5h0M256.9 295.6h0M259.1 296.1h0M260.4 294.8h0M263.0 295.0h0M264.0 295.9h0M267.4 296.0h0M269.6 295.1h0M270.4 295.0h0M273.9 294.9h0M274.7 294.8h0M276.7 294.8h0M279.2 295.0h0M281.3 296.2h0M283.2 296.0h0M286.1 295.6h0M288.0 295.9h0M290.1 295.1h0M291.8 295.1h0M294.0 296.3h0M295.2 293.7h0M295.7 292.7h0M296.1 290.5h0M296.6 287.7h0M298.3 285.8h0M297.7 284.2h0M296.9 281.7h0M296.0 281.1h0M297.6 279.1h0M298.1 277.2h0M299.8 274.9h0M300.6 273.1h0M301.5 271.3h0M303.6 269.4h0M305.4 268.6h0M305.4 267.7h0M304.8 264.9h0M305.4 262.9h0M306.3 262.6h0M307.5 260.8h0M305.8 260.0h0M304.0 260.7h0M301.2 259.0h0M298.9 258.7h0M297.0 258.0h0M295.9 258.0h0M293.5 256.4h0M292.1 255.1h0M291.1 253.5h0M289.9 253.9h0M288.9 255.8h0M286.1 258.5h0M285.5 259.3h0M283.6 258.1h0M280.7 257.2h0M280.2 257.0h0M277.4 256.4h0M276.9 259.0h0M275.6 260.9h0M275.3 262.5h0M273.9 263.5h0M273.7 265.7h0M272.4 267.8h0M270.4 268.0h0M268.5 270.6h0M266.4 270.0h0M264.1 272.3h0M264.2 272.9h0M262.6 275.6h0M262.1 276.7h0M260.8 278.1h0M257.9 277.8h0M256.2 279.7h0M253.8 279.6h0M252.8 281.9h0M250.3 281.8h0M249.5 280.3h0M248.7 277.9h0M248.8 275.7h0M248.6 273.8h0M248.7 272.4h0M248.9 270.5h0M248.4 270.0h0M247.4 272.5h0M247.9 274.6h0M247.4 276.7h0M248.3 278.6h0M247.6 281.5h0M247.6 283.7h0M248.2 284.3h0M247.9 286.6h0M248.4 289.1h0M247.3 292.0h0M248.4 293.6h0M289.5 251.5h0M253.9 275.6h0M255.8 273.3h0M254.8 274.5h0M262.3 271.0h0M289.8 250.2h0M315.3 257.2h0M308.1 258.1h0M309.0 265.9h0" fill="none" stroke="#4c72b0" stroke-width="2.7" stroke-linecap="round"/>
<path d="M289.8 258.1h0M300.3 259.4h0" fill="none" stroke="#fff" stroke-width="1.6" stroke-linecap="round"/>
</g>
<polyline points="249.6,288.4 256.0,287.6 264.0,286.4 273.9,285.0 280.0,282.9 286.5,279.6 293.1,276.4 299.6,272.5 306.1,268.5 311.4,265.3 315.0,263.3" fill="none" stroke="#15171c" stroke-width="1.1" stroke-linejoin="round"/>
<path d="M351.4 234.1V294.1H437.2" fill="none" stroke="#8a8a8a" stroke-width="0.75"/>
<polygon points="352.0,294.1 352.0,293.5 352.2,274.5 352.5,261.7 353.6,268.1 355.1,273.5 356.5,274.5 359.6,271.7 362.4,268.1 365.1,266.6 367.8,268.1 371.5,272.6 375.1,276.6 378.7,280.8 382.4,285.4 386.0,289.9 389.6,292.3 393.3,293.2 416.9,293.5 416.9,294.1" fill="#c1cde4"/>
<path d="M351.9 234.1V294.1" stroke="#b9c4dc" stroke-width="0.9" fill="none"/>
<polyline points="393.3,293.2 416.9,293.5" fill="none" stroke="#6c6f75" stroke-width="0.9"/>
<polyline points="352.5,261.7 353.6,268.1 355.1,273.5 356.5,274.5 359.6,271.7 362.4,268.1 365.1,266.6 367.8,268.1 371.5,272.6 375.1,276.6 378.7,280.8 382.4,285.4 386.0,289.9 389.6,292.3 393.3,293.2" fill="none" stroke="#33363c" stroke-width="1.2" stroke-linejoin="round" stroke-linecap="round"/>
<circle cx="496.0" cy="263.5" r="19.64" fill="#e4928c"/>
<text x="496.0" y="269.4" font-size="16.14" text-anchor="middle" fill="#35282a">.83</text>
<path d="M45.0 306.3V366.3H130.9" fill="none" stroke="#8a8a8a" stroke-width="0.75"/>
<clipPath id="c40"><rect x="44.8" y="305.3" width="87.2" height="61.3"/></clipPath>
<g clip-path="url(#c40)">
<polygon points="43.6,367.7 90.6,367.7 92.0,362.3 92.1,362.2 92.2,362.0 92.2,361.9 92.3,361.7 94.6,358.9 96.2,355.6 97.3,352.3 98.4,345.8 97.4,343.3 96.2,340.3 96.2,340.1 96.1,340.0 95.6,336.8 94.5,335.3 91.5,334.8 91.4,334.8 91.3,334.7 91.1,334.7 91.0,334.6 88.0,332.8 87.9,332.7 86.4,331.6 84.5,332.7 82.3,334.8 82.1,334.9 82.0,335.0 81.8,335.0 76.7,337.3 71.5,339.8 71.5,339.8 67.5,341.7 67.3,341.8 67.2,341.9 67.0,341.9 61.9,342.6 58.3,343.3 54.7,345.6 54.5,345.7 50.5,347.7 50.4,347.8 50.2,347.8 50.1,347.9 49.9,347.9 49.8,347.9 43.6,347.9 43.6,367.7" fill="#4c72b0"/>
<path d="M43.6 368.3h0M45.0 367.4h0M48.5 367.9h0M49.4 367.5h0M52.6 367.6h0M53.4 368.3h0M55.7 367.9h0M58.5 367.6h0M61.1 367.2h0M62.7 367.1h0M65.4 367.2h0M66.8 368.2h0M69.4 367.1h0M71.5 368.2h0M72.8 368.1h0M74.7 367.2h0M76.7 367.4h0M79.8 367.6h0M82.2 368.3h0M83.1 367.6h0M85.0 367.8h0M87.9 367.8h0M89.2 367.9h0M90.4 366.9h0M91.4 363.7h0M92.8 363.0h0M93.0 361.2h0M94.2 359.0h0M95.6 357.5h0M95.7 354.5h0M96.5 353.0h0M98.0 351.5h0M97.3 349.4h0M97.7 346.3h0M98.1 345.6h0M97.9 343.0h0M97.0 340.6h0M95.5 339.8h0M95.9 336.5h0M94.2 335.7h0M91.7 334.5h0M90.9 333.9h0M88.5 333.1h0M86.9 331.7h0M84.8 332.8h0M83.9 334.3h0M81.2 334.5h0M80.5 335.5h0M78.5 336.4h0M76.0 337.8h0M74.1 338.5h0M71.7 339.9h0M70.7 340.0h0M68.6 341.4h0M67.3 341.2h0M65.2 342.3h0M61.8 342.3h0M60.7 342.3h0M58.5 343.4h0M56.7 343.7h0M54.1 346.3h0M52.4 346.0h0M51.2 346.7h0M49.4 348.3h0M46.7 348.1h0M44.8 348.2h0M43.2 348.1h0M43.0 351.5h0M44.4 352.6h0M44.0 354.7h0M43.8 357.0h0M43.7 359.9h0M44.2 362.0h0M44.1 363.5h0M43.2 366.1h0M60.4 336.1h0M103.6 342.3h0M101.3 347.0h0M104.2 348.0h0M107.7 348.0h0M103.6 353.9h0M107.7 354.1h0M101.3 356.2h0M105.4 359.2h0M107.7 361.0h0M106.6 363.3h0M111.9 360.4h0M110.7 362.1h0M114.2 356.2h0M116.6 353.3h0M118.4 356.8h0M121.3 352.1h0M124.3 351.8h0M126.6 352.5h0M128.2 353.9h0M130.2 358.4h0M102.9 348.5h0M104.3 348.1h0M101.4 352.5h0M101.7 352.9h0M102.4 360.6h0M108.0 351.6h0M101.0 354.4h0M101.7 347.1h0M95.9 361.0h0M100.8 357.8h0M99.9 355.2h0M102.2 355.7h0M104.8 354.1h0M102.9 351.7h0M106.2 350.6h0M98.7 359.7h0M96.9 359.8h0M104.1 359.7h0M108.1 354.0h0M101.6 349.7h0M97.4 361.0h0M108.0 353.4h0M105.0 348.2h0M104.3 352.2h0M99.2 357.0h0M100.4 357.0h0M107.0 349.9h0M99.9 350.7h0M105.5 355.0h0M99.3 349.2h0" fill="none" stroke="#4c72b0" stroke-width="2.7" stroke-linecap="round"/>
<path d="M84.7 333.8h0M89.4 340.9h0M93.0 363.9h0" fill="none" stroke="#fff" stroke-width="1.6" stroke-linecap="round"/>
</g>
<polyline points="45.1,365.0 50.9,361.9 58.2,357.4 67.3,351.9 76.4,347.4 85.5,343.7 94.5,340.6 103.6,337.4 112.7,334.3 121.8,331.0 130.4,327.9" fill="none" stroke="#15171c" stroke-width="1.1" stroke-linejoin="round"/>
<text x="40.4" y="369.1" font-size="7.45" text-anchor="end">0</text>
<text x="40.4" y="345.5" font-size="7.45" text-anchor="end">100</text>
<text x="40.4" y="321.9" font-size="7.45" text-anchor="end">200</text>
<text transform="translate(22.8 336.3) rotate(-90)" font-size="8.2" text-anchor="middle">hipodruma</text>
<text x="45.0" y="376.9" font-size="7.45" text-anchor="middle">0</text>
<text x="78.8" y="376.9" font-size="7.45" text-anchor="middle">100</text>
<text x="112.7" y="376.9" font-size="7.45" text-anchor="middle">200</text>
<text x="88.0" y="386.7" font-size="8.2" text-anchor="middle">drujba</text>
<path d="M147.1 306.3V366.3H233.0" fill="none" stroke="#8a8a8a" stroke-width="0.75"/>
<clipPath id="c41"><rect x="146.8" y="305.3" width="87.2" height="61.3"/></clipPath>
<g clip-path="url(#c41)">
<polygon points="145.7,367.7 187.2,367.7 188.7,363.2 188.7,363.2 189.2,361.7 187.5,360.5 184.7,358.7 184.6,358.6 184.5,358.5 184.4,358.4 184.3,358.3 184.2,358.1 184.2,358.0 184.1,357.8 184.1,357.7 184.0,357.5 184.0,357.4 184.0,357.2 184.1,357.1 184.1,356.9 184.2,356.8 184.2,356.6 184.3,356.5 186.1,353.7 186.2,353.6 186.3,353.5 186.5,353.4 186.6,353.3 186.7,353.2 190.4,351.4 190.5,351.3 194.8,349.6 198.2,347.1 200.8,344.5 203.4,340.9 206.2,337.3 206.3,337.2 206.4,337.1 206.5,337.0 210.1,334.3 210.2,334.2 212.8,332.4 212.5,332.5 212.4,332.5 207.9,333.8 207.8,333.8 207.6,333.9 202.2,334.4 196.8,335.3 196.7,335.3 192.2,335.9 192.1,335.9 191.9,335.9 187.7,335.7 184.4,337.0 184.3,337.1 184.1,337.1 179.6,338.0 179.4,338.0 179.3,338.1 179.1,338.0 174.9,337.5 171.7,338.8 168.2,340.6 168.0,340.7 165.9,341.4 165.2,342.6 165.2,342.8 165.1,342.9 165.0,343.0 164.9,343.1 164.8,343.2 161.1,345.9 161.0,346.0 160.9,346.1 160.8,346.1 156.2,347.9 156.1,348.0 151.6,349.4 151.5,349.5 145.7,351.0 145.7,367.7" fill="#4c72b0"/>
<path d="M145.5 367.3h0M147.3 368.3h0M150.0 368.0h0M152.1 367.5h0M154.5 367.8h0M156.7 367.9h0M158.9 367.6h0M160.0 367.2h0M162.9 367.2h0M164.9 367.9h0M166.2 368.1h0M168.2 368.3h0M171.6 367.3h0M173.5 368.0h0M174.7 368.0h0M176.8 368.3h0M179.8 368.4h0M181.0 367.4h0M183.9 367.9h0M185.4 368.3h0M188.0 366.7h0M187.6 365.2h0M188.6 363.2h0M188.5 361.1h0M186.1 359.5h0M185.0 359.2h0M183.9 357.5h0M185.1 355.9h0M186.5 353.3h0M187.6 351.9h0M189.3 352.1h0M192.5 351.1h0M193.3 350.2h0M195.2 349.5h0M197.7 348.0h0M199.2 346.1h0M201.0 345.5h0M201.4 343.0h0M203.4 341.7h0M204.2 339.7h0M206.3 337.7h0M206.7 336.8h0M208.5 335.9h0M210.2 334.6h0M212.1 333.4h0M211.8 333.2h0M209.0 332.9h0M206.7 333.4h0M205.5 333.4h0M202.8 334.4h0M200.6 334.3h0M198.6 335.2h0M196.3 336.0h0M194.9 335.9h0M192.8 335.8h0M191.3 336.4h0M188.9 335.0h0M186.6 336.9h0M184.7 337.0h0M182.6 337.0h0M180.7 338.3h0M177.6 338.0h0M176.3 337.5h0M174.4 338.5h0M172.7 338.4h0M169.7 340.1h0M168.5 341.0h0M166.9 340.9h0M165.3 342.5h0M163.9 344.4h0M161.4 345.4h0M160.1 346.1h0M157.5 347.2h0M155.4 348.0h0M154.7 349.1h0M151.3 349.8h0M150.3 350.2h0M147.2 350.8h0M145.4 351.4h0M145.4 352.7h0M145.2 355.6h0M145.2 357.7h0M145.7 358.7h0M145.9 361.4h0M144.9 364.0h0M145.3 364.9h0M214.1 331.0h0M215.0 330.5h0M155.6 336.5h0M179.6 333.2h0M164.7 340.1h0M202.9 331.5h0M207.5 331.9h0M214.7 329.7h0M194.7 357.7h0M196.5 357.0h0M194.7 362.8h0M196.5 364.6h0M198.4 365.5h0M190.4 365.4h0M194.6 363.8h0M187.0 361.8h0M185.7 361.0h0M187.0 361.5h0M194.3 361.1h0M190.2 359.4h0M187.6 359.4h0M192.1 360.7h0M197.3 363.8h0M189.3 364.4h0M189.4 360.6h0M192.8 366.0h0M186.1 359.3h0M188.3 363.4h0M196.1 364.8h0M193.2 361.9h0M185.8 365.4h0M191.2 364.9h0M188.5 360.5h0M191.7 361.8h0M191.9 364.1h0" fill="none" stroke="#4c72b0" stroke-width="2.7" stroke-linecap="round"/>
</g>
<polyline points="147.1,365.5 214.7,331.9" fill="none" stroke="#15171c" stroke-width="1.1" stroke-linejoin="round"/>
<text x="147.1" y="376.9" font-size="7.45" text-anchor="middle">0</text>
<text x="180.9" y="376.9" font-size="7.45" text-anchor="middle">100</text>
<text x="214.7" y="376.9" font-size="7.45" text-anchor="middle">200</text>
<text x="190.0" y="386.7" font-size="8.2" text-anchor="middle">pavlovo</text>
<path d="M249.3 306.3V366.3H335.2" fill="none" stroke="#8a8a8a" stroke-width="0.75"/>
<clipPath id="c42"><rect x="249.0" y="305.3" width="87.2" height="61.3"/></clipPath>
<g clip-path="url(#c42)">
<polygon points="247.9,367.7 298.0,367.7 298.0,360.3 297.4,356.5 296.7,353.3 296.7,353.1 296.7,352.9 296.7,352.8 296.7,352.6 296.8,352.5 296.8,352.3 296.9,352.2 299.5,347.6 299.6,347.4 301.6,344.8 301.7,344.6 304.4,342.0 304.5,341.9 306.8,340.1 307.6,338.7 307.1,338.0 304.8,337.6 301.9,338.2 301.7,338.2 301.6,338.2 301.4,338.2 301.2,338.2 301.1,338.1 300.9,338.1 300.8,338.0 300.6,337.9 300.5,337.8 300.4,337.7 300.3,337.6 299.0,335.8 297.4,336.2 297.2,336.2 297.1,336.2 296.9,336.2 296.8,336.2 296.6,336.2 296.5,336.2 292.9,335.0 289.9,335.5 287.7,337.7 287.5,337.8 287.4,337.9 287.3,338.0 287.1,338.1 287.0,338.1 286.8,338.2 286.7,338.2 286.5,338.2 286.4,338.2 286.2,338.2 286.1,338.1 285.9,338.1 285.8,338.0 285.6,337.9 285.5,337.8 285.4,337.7 285.3,337.6 285.2,337.5 285.1,337.3 284.6,336.3 284.1,336.6 284.0,336.7 282.0,337.8 281.9,337.8 281.8,337.9 281.6,337.9 281.5,337.9 281.3,337.9 281.1,337.9 281.0,337.9 280.8,337.9 280.7,337.8 280.5,337.8 280.4,337.7 280.3,337.6 280.2,337.5 280.1,337.4 280.0,337.2 279.9,337.1 279.8,337.0 279.8,336.8 279.7,336.7 279.7,336.5 279.7,336.4 279.7,336.2 279.7,336.0 279.8,335.9 279.8,335.7 279.9,335.6 280.0,335.5 281.8,332.7 280.9,333.3 280.8,333.4 280.7,333.5 280.5,333.5 280.4,333.6 278.2,334.1 276.5,335.8 276.4,335.9 274.3,337.5 273.7,342.0 273.7,342.2 273.7,342.4 273.6,342.5 273.5,342.7 273.4,342.8 271.5,345.4 271.4,345.5 271.3,345.6 271.1,345.7 268.7,347.6 266.9,350.0 266.8,350.1 266.7,350.2 266.6,350.3 266.5,350.4 266.3,350.5 263.8,351.7 261.3,353.6 261.2,353.7 261.1,353.7 261.0,353.8 257.7,355.1 254.4,356.4 254.3,356.4 254.1,356.5 254.0,356.5 253.8,356.5 251.0,356.5 250.8,356.5 250.7,356.5 250.5,356.4 250.4,356.4 250.2,356.3 250.1,356.2 250.0,356.2 249.8,356.1 249.7,355.9 249.6,355.8 249.6,355.7 249.5,355.5 249.4,355.4 249.4,355.3 249.4,355.1 249.4,354.9 249.1,344.1 247.9,344.1 247.9,367.7" fill="#4c72b0"/>
<path d="M248.2 367.0h0M249.7 367.3h0M252.5 368.0h0M254.9 367.1h0M256.3 367.0h0M258.1 367.7h0M259.9 367.2h0M262.9 367.8h0M264.4 367.8h0M267.4 367.0h0M269.5 368.0h0M270.9 367.2h0M273.9 367.5h0M274.8 367.1h0M278.0 367.9h0M280.0 368.0h0M281.8 368.4h0M283.6 367.8h0M286.4 367.9h0M288.6 367.8h0M290.4 367.0h0M291.8 367.4h0M293.7 367.3h0M295.9 367.4h0M298.2 366.9h0M297.8 364.6h0M297.7 363.6h0M298.2 361.0h0M297.3 359.1h0M296.9 356.5h0M297.7 354.8h0M296.9 352.8h0M298.3 351.1h0M298.4 348.1h0M299.7 346.7h0M300.8 346.0h0M303.2 343.5h0M304.3 342.1h0M306.4 340.9h0M306.8 339.1h0M306.8 337.6h0M304.8 338.2h0M302.4 337.6h0M301.3 337.9h0M298.6 335.5h0M296.8 336.4h0M295.8 335.7h0M292.7 334.9h0M292.0 335.3h0M290.1 336.5h0M287.2 337.8h0M286.3 338.2h0M284.4 336.8h0M282.4 337.1h0M281.0 338.6h0M280.3 336.2h0M280.5 334.1h0M282.3 333.4h0M279.8 333.9h0M278.3 333.7h0M277.0 335.8h0M275.4 337.0h0M273.4 338.5h0M273.2 341.5h0M273.9 343.4h0M271.8 343.9h0M271.2 346.8h0M268.3 347.3h0M267.0 349.4h0M266.6 350.0h0M264.3 351.5h0M262.2 353.2h0M260.7 353.4h0M259.0 355.0h0M256.5 355.1h0M255.7 356.4h0M252.8 356.5h0M250.3 356.1h0M249.1 355.3h0M248.9 352.6h0M248.6 351.1h0M248.8 349.5h0M249.7 346.1h0M248.8 344.9h0M247.5 343.9h0M248.6 346.7h0M247.9 349.1h0M248.4 350.4h0M247.3 352.8h0M247.8 355.0h0M248.3 357.4h0M248.7 358.7h0M247.8 361.1h0M248.5 363.1h0M247.5 365.5h0M283.7 330.7h0M282.7 330.9h0M253.2 351.2h0M255.2 350.7h0M260.4 351.2h0M265.6 348.1h0M315.3 334.0h0M300.3 350.7h0M309.4 336.6h0" fill="none" stroke="#4c72b0" stroke-width="2.7" stroke-linecap="round"/>
</g>
<polyline points="249.3,362.5 259.1,361.2 266.9,359.9 274.1,358.8 280.0,356.2 286.5,352.9 293.1,349.0 299.6,345.1 306.1,341.2 311.4,338.6 315.0,336.6" fill="none" stroke="#15171c" stroke-width="1.1" stroke-linejoin="round"/>
<text x="249.3" y="376.9" font-size="7.45" text-anchor="middle">0</text>
<text x="283.1" y="376.9" font-size="7.45" text-anchor="middle">100</text>
<text x="316.9" y="376.9" font-size="7.45" text-anchor="middle">200</text>
<text x="292.3" y="386.7" font-size="8.2" text-anchor="middle">kopitoto</text>
<path d="M351.4 306.3V366.3H437.2" fill="none" stroke="#8a8a8a" stroke-width="0.75"/>
<clipPath id="c43"><rect x="351.1" y="305.3" width="87.2" height="61.3"/></clipPath>
<g clip-path="url(#c43)">
<polygon points="350.0,367.7 396.8,367.7 397.7,363.6 396.6,361.5 396.6,361.3 396.5,361.2 396.0,359.3 394.1,358.3 394.0,358.2 393.8,358.1 393.7,358.0 393.6,357.9 393.5,357.8 393.4,357.7 393.3,357.5 393.3,357.4 393.2,357.2 393.2,357.1 393.2,356.9 393.2,356.8 393.2,356.6 393.3,356.4 393.3,356.3 393.4,356.2 394.7,353.5 394.8,353.4 394.8,353.3 396.8,350.7 396.9,350.6 397.0,350.5 397.1,350.4 399.4,348.6 400.6,346.3 400.6,346.2 400.7,346.1 400.8,346.0 400.9,345.9 401.0,345.8 401.2,345.7 403.4,344.3 403.1,342.9 403.0,342.7 403.0,342.6 403.0,342.4 403.0,342.3 403.1,342.1 403.1,341.9 403.2,341.8 403.2,341.7 403.3,341.5 406.8,336.9 406.4,335.5 405.0,334.0 402.6,332.8 402.4,332.7 402.3,332.6 402.2,332.5 401.6,331.9 401.4,332.3 401.3,332.3 399.4,335.0 399.2,335.1 399.1,335.2 399.0,335.3 398.9,335.4 398.7,335.5 398.6,335.5 398.4,335.6 398.2,335.6 398.1,335.6 397.9,335.6 397.8,335.6 394.8,335.0 391.2,335.6 389.4,336.1 387.0,338.4 386.9,338.5 386.7,338.6 383.5,340.6 383.4,340.7 383.2,340.7 380.0,342.0 376.7,343.3 376.5,343.4 376.4,343.4 376.2,343.4 376.0,343.4 375.9,343.4 375.7,343.4 373.1,342.7 373.0,342.7 372.8,342.6 372.7,342.6 372.6,342.5 372.4,342.4 372.3,342.3 372.2,342.2 372.1,342.0 372.1,341.9 372.0,341.8 371.2,339.8 370.0,340.1 369.8,340.2 369.6,340.2 369.5,340.2 369.3,340.1 369.1,340.1 369.0,340.1 368.8,340.0 368.7,339.9 367.8,339.3 366.1,341.0 366.0,341.1 365.9,341.2 365.8,341.3 365.6,341.3 365.5,341.4 365.3,341.4 365.2,341.5 365.0,341.5 364.9,341.5 364.7,341.5 364.6,341.4 364.4,341.4 364.3,341.3 362.9,340.6 361.7,342.1 361.6,342.3 361.5,342.4 361.4,342.5 361.3,342.5 361.1,342.6 361.0,342.7 357.7,344.0 357.6,344.0 357.5,344.1 354.3,344.7 350.0,346.2 350.0,367.7" fill="#4c72b0"/>
<path d="M349.3 368.0h0M351.5 367.6h0M354.4 368.1h0M356.2 367.7h0M357.6 367.6h0M360.3 368.2h0M362.6 368.1h0M364.6 367.2h0M367.3 368.2h0M368.7 367.1h0M371.0 367.7h0M373.5 367.8h0M375.2 367.8h0M377.1 367.0h0M378.7 368.4h0M382.0 367.4h0M384.1 367.7h0M385.1 368.2h0M387.9 368.3h0M390.1 367.1h0M392.2 368.1h0M394.7 367.4h0M396.2 368.0h0M396.6 366.8h0M398.0 363.5h0M397.2 362.1h0M395.8 360.5h0M395.8 358.9h0M392.8 357.6h0M394.0 356.4h0M394.9 353.1h0M396.4 352.2h0M396.4 349.9h0M398.1 349.4h0M399.5 348.0h0M400.5 345.8h0M402.8 344.0h0M402.3 343.5h0M404.4 340.5h0M405.3 340.1h0M406.8 338.3h0M406.3 336.1h0M405.2 334.9h0M403.7 333.7h0M402.2 331.8h0M400.7 332.9h0M398.7 335.8h0M397.0 335.7h0M395.2 334.7h0M393.1 335.9h0M390.7 335.4h0M388.6 335.9h0M388.0 338.2h0M386.6 339.4h0M384.8 339.8h0M381.7 340.7h0M380.1 342.6h0M377.9 342.6h0M375.7 342.7h0M374.3 343.2h0M372.4 342.9h0M372.0 341.1h0M369.9 339.8h0M367.4 339.8h0M365.9 340.0h0M364.9 340.9h0M362.9 340.3h0M361.3 341.7h0M359.3 343.0h0M357.2 343.5h0M355.6 344.7h0M353.0 344.3h0M351.2 346.0h0M349.6 346.9h0M349.3 349.1h0M349.4 350.5h0M350.3 353.0h0M350.2 354.8h0M350.2 356.9h0M349.9 359.2h0M350.6 361.8h0M350.0 364.0h0M350.1 365.9h0M367.6 336.3h0M401.3 329.7h0M407.9 337.3h0M410.5 341.8h0M413.5 343.1h0M410.5 345.1h0M401.3 348.4h0M404.6 341.8h0" fill="none" stroke="#4c72b0" stroke-width="2.7" stroke-linecap="round"/>
<path d="M391.1 354.9h0M393.1 356.2h0M395.1 356.9h0M389.8 358.8h0M385.9 360.8h0M393.8 363.4h0M392.4 365.4h0M401.3 341.8h0M392.2 354.9h0M389.6 358.8h0M394.2 360.1h0M392.8 365.4h0" fill="none" stroke="#fff" stroke-width="1.6" stroke-linecap="round"/>
</g>
<polyline points="351.7,366.0 361.1,360.8 374.1,352.9 387.2,345.1 398.1,339.2 407.2,333.7 413.5,330.5" fill="none" stroke="#15171c" stroke-width="1.1" stroke-linejoin="round"/>
<text x="351.4" y="376.9" font-size="7.45" text-anchor="middle">0</text>
<text x="385.2" y="376.9" font-size="7.45" text-anchor="middle">100</text>
<text x="419.0" y="376.9" font-size="7.45" text-anchor="middle">200</text>
<text x="394.3" y="386.7" font-size="8.2" text-anchor="middle">nadejda</text>
<path d="M453.1 306.3V366.3H539.0" fill="none" stroke="#8a8a8a" stroke-width="0.75"/>
<polygon points="453.5,366.3 453.5,365.5 453.6,348.3 454.2,336.5 455.3,342.8 456.7,349.2 458.5,351.0 461.6,350.5 465.3,349.7 468.0,351.0 471.6,353.4 475.3,355.2 478.0,357.7 480.7,361.0 484.4,363.7 488.0,365.0 493.5,365.5 508.2,365.7 508.2,366.3" fill="#c1cde4"/>
<path d="M453.6 306.3V366.3" stroke="#b9c4dc" stroke-width="0.9" fill="none"/>
<polyline points="493.5,365.5 508.2,365.7" fill="none" stroke="#6c6f75" stroke-width="0.9"/>
<polyline points="454.2,336.5 455.3,342.8 456.7,349.2 458.5,351.0 461.6,350.5 465.3,349.7 468.0,351.0 471.6,353.4 475.3,355.2 478.0,357.7 480.7,361.0 484.4,363.7 488.0,365.0 493.5,365.5" fill="none" stroke="#33363c" stroke-width="1.2" stroke-linejoin="round" stroke-linecap="round"/>
<text x="453.1" y="376.9" font-size="7.45" text-anchor="middle">0</text>
<text x="486.9" y="376.9" font-size="7.45" text-anchor="middle">100</text>
<text x="520.6" y="376.9" font-size="7.45" text-anchor="middle">200</text>
<text x="496.0" y="386.7" font-size="8.2" text-anchor="middle">hipodruma</text>
</svg></body></html>
